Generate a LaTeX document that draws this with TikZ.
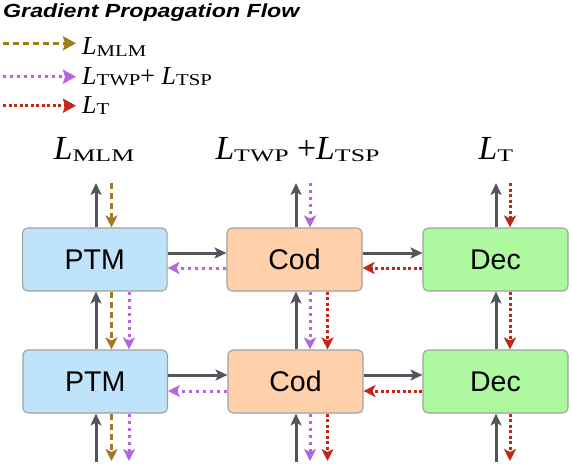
\documentclass[tikz,border=0pt]{standalone}
\usepackage{fontspec}
\setmainfont{Liberation Serif}
\newfontfamily\sansf{Liberation Sans}
\usepackage{graphicx}
\usetikzlibrary{arrows.meta}
\definecolor{ptmfill}{HTML}{BEE3FB}
\definecolor{codfill}{HTML}{FFD0A9}
\definecolor{decfill}{HTML}{AEF8A0}
\definecolor{boxline}{HTML}{A0A0A0}
\definecolor{flowgray}{HTML}{50565C}
\definecolor{mlmcol}{HTML}{A27A1E}
\definecolor{twpcol}{HTML}{B565E0}
\definecolor{tcol}{HTML}{C0281A}
\newcommand\bigsub[1]{\raisebox{-1.7pt}{\fontsize{17.7}{18}\selectfont\scalebox{1.46}[1]{#1}}}
\newcommand\smallsub[1]{\raisebox{-1.5pt}{\fontsize{16.6}{17}\selectfont\scalebox{1.25}[1]{#1}}}
\tikzset{
  blk/.style={draw=boxline, line width=1.1pt, rounded corners=5pt, minimum height=63pt, inner sep=0pt,
    font=\sansf\fontsize{28.5}{30}\selectfont},
  ghead/.style={-{Stealth[length=12pt,width=11pt,inset=3pt]}},
  fwd/.style={draw=flowgray, line width=3pt, ghead},
  mlmln/.style={draw=mlmcol, line width=3pt, dash pattern=on 6pt off 4pt, -{Stealth[length=12pt,width=12pt,inset=3pt]}},
  twpln/.style={draw=twpcol, line width=3pt, dash pattern=on 3pt off 4pt, -{Stealth[length=12pt,width=12pt,inset=3pt]}},
  tln/.style={draw=tcol, line width=3pt, dash pattern=on 3pt off 2.5pt, -{Stealth[length=12pt,width=12pt,inset=3pt]}},
  legarr/.style={-{Stealth[length=13pt,width=14pt,inset=2pt]}},
  biglab/.style={anchor=base, inner sep=0pt, font=\fontsize{33.7}{36}\selectfont},
  leglab/.style={anchor=base west, inner sep=0pt, font=\fontsize{26}{28}\selectfont},
}
\begin{document}
\begin{tikzpicture}[x=1pt,y=-1pt]
\useasboundingbox (0,0) rectangle (572,465);
% title and legend
\node[anchor=base west, inner sep=0pt, font=\sansf\bfseries\itshape\fontsize{19}{22}\selectfont] (title) at (3,17.5) {\scalebox{1.22}[1]{Gradient Propagation Flow}};
\coordinate (la0) at (3,43.3);   \coordinate (la1) at (76,43.3);
\coordinate (lb0) at (3,76.7);   \coordinate (lb1) at (76,76.7);
\coordinate (lc0) at (3,105.7);  \coordinate (lc1) at (76,105.7);
\draw[mlmln, legarr] (la0) -- (la1);
\draw[twpln, legarr] (lb0) -- (lb1);
\draw[tln, legarr] (lc0) -- (lc1);
\node[leglab] (legA) at (82,55) {\textit{L}\smallsub{MLM}};
\node[leglab] (legB) at (82,84.3) {\textit{L}\smallsub{TWP}+ \textit{L}\smallsub{TSP}};
\node[leglab] (legC) at (82,113.3) {\textit{L}\smallsub{T}};
% loss labels
\node[biglab] (lossA) at (94,160) {\textit{L}\bigsub{MLM}};
\node[biglab] (lossB) at (297.5,160) {\textit{L}\bigsub{TWP} +\textit{L}\bigsub{TSP}};
\node[biglab] (lossC) at (496,160) {\textit{L}\bigsub{T}};
% boxes
\node[blk, fill=ptmfill, minimum width=144.5pt] (P1) at (94.8,259.5) {PTM};
\node[blk, fill=codfill, minimum width=135pt] (C1) at (294.5,259.5) {Cod};
\node[blk, fill=decfill, minimum width=145pt] (D1) at (495.5,259.5) {Dec};
\node[blk, fill=ptmfill, minimum width=144.5pt] (P2) at (95.2,381.5) {PTM};
\node[blk, fill=codfill, minimum width=135pt] (C2) at (295.5,381.5) {Cod};
\node[blk, fill=decfill, minimum width=145pt] (D2) at (495.5,381.5) {Dec};
% column / row reference coordinates (free ends)
\coordinate (tA) at (96,183);  \coordinate (tAm) at (111.5,183);
\coordinate (tB) at (296,183); \coordinate (tBp) at (310,183);
\coordinate (tC) at (496,183); \coordinate (tCr) at (510,183);
\coordinate (bA) at (96,462);  \coordinate (bAm) at (111.5,461); \coordinate (bAp) at (129,461);
\coordinate (bB) at (296,462); \coordinate (bBp) at (310,461); \coordinate (bBr) at (327.5,461);
\coordinate (bC) at (496,462); \coordinate (bCr) at (510,461);
\coordinate (h1) at (0,253);   \coordinate (h1d) at (0,268);
\coordinate (h2) at (0,375);   \coordinate (h2d) at (0,391);
% top outputs
\draw[fwd] (P1.north -| tA) -- (tA);
\draw[mlmln] (tAm) -- (P1.north -| tAm);
\draw[fwd] (C1.north -| tB) -- (tB);
\draw[twpln] (tBp) -- (C1.north -| tBp);
\draw[fwd] (D1.north -| tC) -- (tC);
\draw[tln] (tCr) -- (D1.north -| tCr);
% between rows
\draw[fwd] (P2.north -| tA) -- (P1.south -| tA);
\draw[mlmln] (P1.south -| tAm) -- (P2.north -| tAm);
\draw[twpln] (P1.south -| bAp) -- (P2.north -| bAp);
\draw[fwd] (C2.north -| tB) -- (C1.south -| tB);
\draw[twpln] (C1.south -| tBp) -- (C2.north -| tBp);
\draw[tln] (C1.south -| bBr) -- (C2.north -| bBr);
\draw[fwd] (D2.north -| tC) -- (D1.south -| tC);
\draw[tln] (D1.south -| tCr) -- (D2.north -| tCr);
% bottom inputs
\draw[fwd] (bA) -- (P2.south -| bA);
\draw[mlmln] (P2.south -| bAm) -- (bAm);
\draw[twpln] (P2.south -| bAp) -- (bAp);
\draw[fwd] (bB) -- (C2.south -| bB);
\draw[twpln] (C2.south -| bBp) -- (bBp);
\draw[tln] (C2.south -| bBr) -- (bBr);
\draw[fwd] (bC) -- (D2.south -| bC);
\draw[tln] (D2.south -| bCr) -- (bCr);
% horizontal flows
\draw[fwd] (P1.east |- h1) -- (C1.west |- h1);
\draw[twpln] (C1.west |- h1d) -- (P1.east |- h1d);
\draw[fwd] (C1.east |- h1) -- (D1.west |- h1);
\draw[tln] (D1.west |- h1d) -- (C1.east |- h1d);
\draw[fwd] (P2.east |- h2) -- (C2.west |- h2);
\draw[twpln] (C2.west |- h2d) -- (P2.east |- h2d);
\draw[fwd] (C2.east |- h2) -- (D2.west |- h2);
\draw[tln] (D2.west |- h2d) -- (C2.east |- h2d);
\end{tikzpicture}
\end{document}
